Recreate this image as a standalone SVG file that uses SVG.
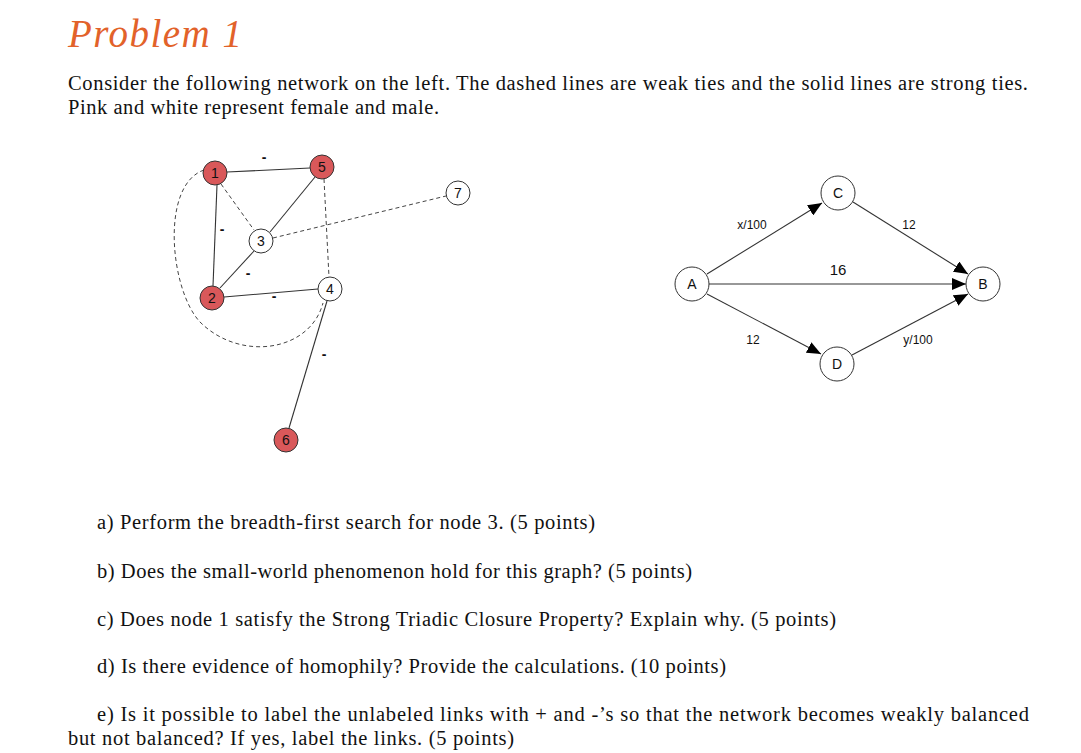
<svg xmlns="http://www.w3.org/2000/svg" width="1081" height="753" viewBox="0 0 1081 753">
<style>
.t{font-family:"Liberation Serif",serif;font-size:20.5px;fill:#111}
.n{font-family:"Liberation Sans",Arial,sans-serif;font-size:14px;fill:#111;text-anchor:middle}
.l{font-family:"Liberation Sans",Arial,sans-serif;font-size:12px;fill:#111;text-anchor:middle}
.s{stroke:#333;stroke-width:1.1;fill:none}
.d{stroke:#444;stroke-width:1;fill:none;stroke-dasharray:4 3}
.p{fill:#d9585a;stroke:#333;stroke-width:1}
.w{fill:#fff;stroke:#333;stroke-width:1}
</style>
<defs><marker id="ah" viewBox="0 0 14 12" refX="14" refY="6" markerWidth="14" markerHeight="12" markerUnits="userSpaceOnUse" orient="auto"><path d="M0,0 L14,6 L0,12 z" fill="#000"/></marker></defs>
<rect width="1081" height="753" fill="#fff"/>
<text x="68" y="47" textLength="174" style="font-family:'Liberation Serif',serif;font-style:italic;font-size:39px;fill:#e2622a">Problem 1</text>
<text class="t" x="68" y="90" textLength="960">Consider the following network on the left. The dashed lines are weak ties and the solid lines are strong ties.</text>
<text class="t" x="68" y="114" textLength="371">Pink and white represent female and male.</text>
<g id="connectors">
<line class="s" x1="227" y1="172" x2="310" y2="168"/>
<line class="s" x1="217" y1="185" x2="213" y2="286"/>
<line class="d" x1="221" y1="184" x2="254" y2="230"/>
<line class="s" x1="270" y1="232" x2="315" y2="177"/>
<line class="s" x1="254" y1="251" x2="220" y2="288"/>
<line class="s" x1="224" y1="297" x2="318" y2="289"/>
<line class="d" x1="324" y1="179" x2="329" y2="277"/>
<line class="d" x1="273" y1="238" x2="446" y2="196"/>
<line class="s" x1="327" y1="301" x2="289" y2="428"/>
<path class="d" d="M204,170 C160,185 170,290 200,322 C240,362 310,352 323,303"/>
<line class="s" x1="675" y1="284" x2="966" y2="284" marker-end="url(#ah)"/>
<line class="s" x1="707" y1="274" x2="822" y2="203" marker-end="url(#ah)"/>
<line class="s" x1="853" y1="202" x2="968" y2="274" marker-end="url(#ah)"/>
<line class="s" x1="707" y1="294" x2="821" y2="354" marker-end="url(#ah)"/>
<line class="s" x1="852" y1="355" x2="968" y2="294" marker-end="url(#ah)"/>
<g class="l" style="font-size:14px;font-weight:bold">
<text x="264" y="162">-</text><text x="222" y="234">-</text><text x="248" y="278">-</text><text x="274" y="301">-</text><text x="324" y="359">-</text>
</g>
<text class="l" x="752" y="229">x/100</text>
<text class="l" x="909" y="229">12</text>
<text class="l" x="838" y="275" style="font-size:15px">16</text>
<text class="l" x="753" y="344">12</text>
<text class="l" x="918" y="344">y/100</text>
</g>
<g id="n1"><circle class="p" cx="215" cy="173" r="12"/><text class="n" x="215" y="178">1</text></g>
<g id="n5"><circle class="p" cx="322" cy="167" r="12"/><text class="n" x="322" y="172">5</text></g>
<g id="n3"><circle class="w" cx="261" cy="241" r="12"/><text class="n" x="261" y="246">3</text></g>
<g id="n2"><circle class="p" cx="212" cy="298" r="12"/><text class="n" x="212" y="303">2</text></g>
<g id="n4"><circle class="w" cx="330" cy="289" r="12"/><text class="n" x="330" y="294">4</text></g>
<g id="n6"><circle class="p" cx="286" cy="440" r="12"/><text class="n" x="286" y="445">6</text></g>
<g id="n7"><circle class="w" cx="458" cy="193" r="12"/><text class="n" x="458" y="198">7</text></g>
<g id="nA"><circle class="w" cx="692" cy="284" r="17"/><text class="l" x="692" y="289" style="font-size:14px">A</text></g>
<g id="nC"><circle class="w" cx="838" cy="193" r="17"/><text class="l" x="838" y="198" style="font-size:14px">C</text></g>
<g id="nB"><circle class="w" cx="983" cy="284" r="17"/><text class="l" x="983" y="289" style="font-size:14px">B</text></g>
<g id="nD"><circle class="w" cx="837" cy="364" r="17"/><text class="l" x="837" y="369" style="font-size:14px">D</text></g>
<text class="t" x="97" y="529" textLength="498">a) Perform the breadth-first search for node 3. (5 points)</text>
<text class="t" x="97" y="578" textLength="595">b) Does the small-world phenomenon hold for this graph? (5 points)</text>
<text class="t" x="97" y="626" textLength="739">c) Does node 1 satisfy the Strong Triadic Closure Property? Explain why. (5 points)</text>
<text class="t" x="97" y="673" textLength="629">d) Is there evidence of homophily? Provide the calculations. (10 points)</text>
<text class="t" x="97" y="721" textLength="932">e) Is it possible to label the unlabeled links with + and -’s so that the network becomes weakly balanced</text>
<text class="t" x="68" y="745" textLength="446">but not balanced? If yes, label the links. (5 points)</text>
</svg>
